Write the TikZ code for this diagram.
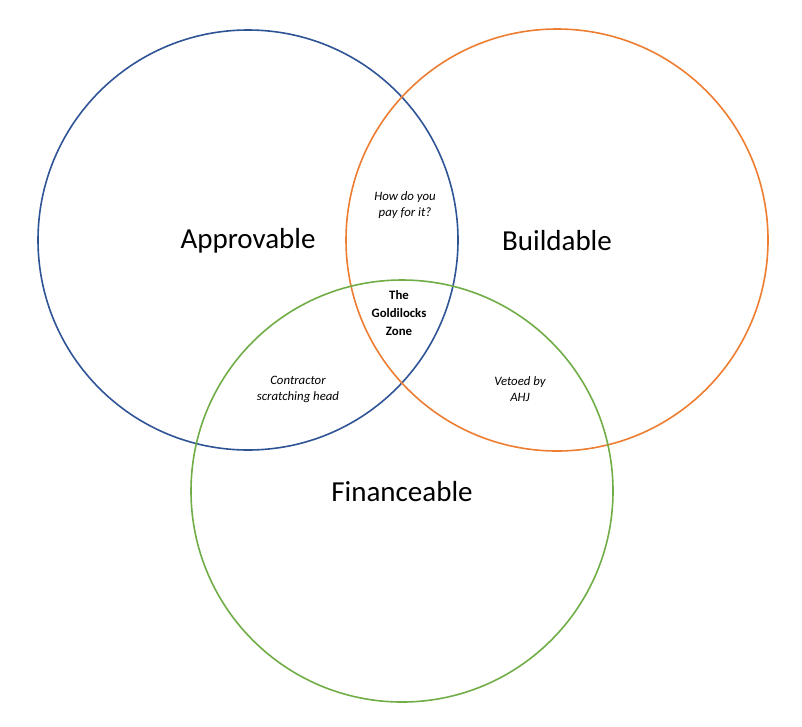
\documentclass[tikz,border=0pt]{standalone}
\usepackage{fontspec}
\setmainfont{Carlito}
\begin{document}
\begin{tikzpicture}[x=1pt,y=-1pt,
  circ/.style={line width=1.6pt},
  big/.style={font=\fontsize{29}{33}\selectfont},
  small/.style={font=\fontsize{12.8}{16}\selectfont\itshape,align=center},
  bold/.style={font=\fontsize{12.8}{18}\selectfont\bfseries,align=center}]
\useasboundingbox (0,0) rectangle (802,726);
\definecolor{cblue}{HTML}{2F5496}
\definecolor{corange}{HTML}{ED7D31}
\definecolor{cgreen}{HTML}{70AD47}
\draw[circ,cblue] (248,240) circle (210);
\draw[circ,corange] (557,240) circle (211);
\draw[circ,cgreen] (402,491) circle (211);
\node[big] (a) at (248,241) {Approvable};
\node[big] (b) at (557,241) {Buildable};
\node[big] (f) at (402,492) {Financeable};
\node[small] (ab) at (405,205) {How do you\\pay for it?};
\node[bold] (g) at (399,313) {The\\Goldilocks\\Zone};
\node[small] (af) at (298,389) {Contractor\\scratching head};
\node[small] (bf) at (520,389) {Vetoed by\\AHJ};
\end{tikzpicture}
\end{document}
